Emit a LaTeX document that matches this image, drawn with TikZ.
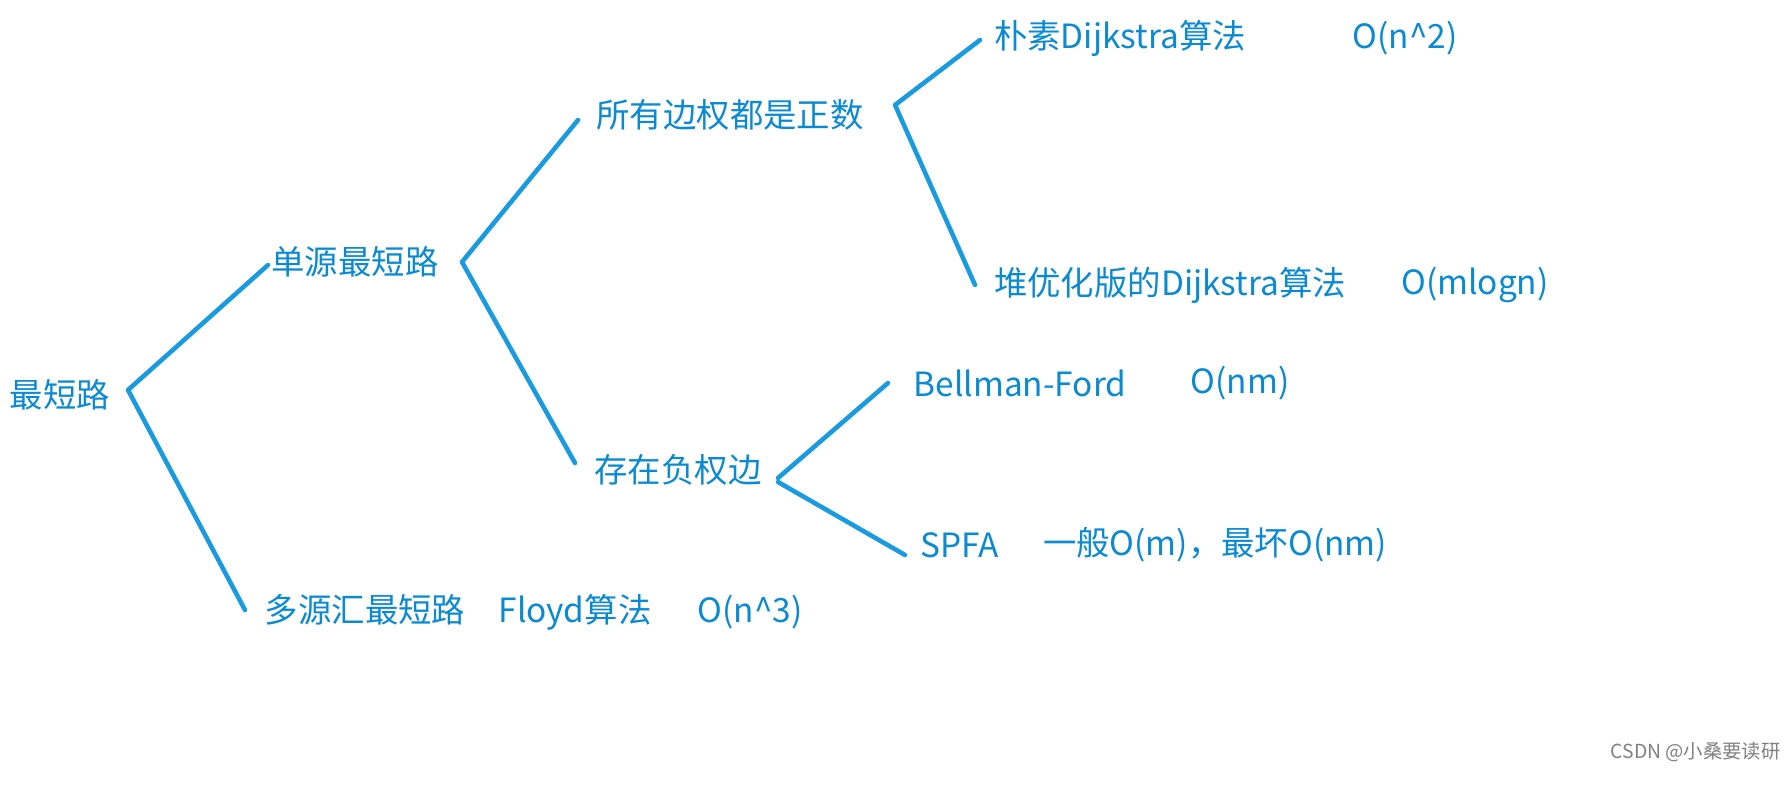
\documentclass[tikz,border=0pt]{standalone}
\usepackage{fontspec}
\setmainfont{Noto Sans CJK SC}
\definecolor{treeblue}{HTML}{1A9BE0}
\definecolor{textblue}{HTML}{0A8AD2}
\begin{document}
\begin{tikzpicture}[x=0.01cm,y=-0.01cm, thick,
  label node/.style={text=textblue,font=\fontsize{9.5}{11}\selectfont, inner sep=0pt},
  branch/.style={draw=treeblue,line width=1.3pt,line cap=round}]
  \useasboundingbox (0,0) rectangle (1792,788);

  \node[label node] (root) at (60,395) {最短路};
  \node[label node] (single) at (355,262) {单源最短路};
  \node[label node] (multi) at (365,610) {多源汇最短路};
  \node[label node] (floyd) at (575,612) {Floyd算法};
  \node[label node] (floydc) at (750,612) {O(n\^{}3)};
  \node[label node] (pos) at (730,115) {所有边权都是正数};
  \node[label node] (neg) at (678,470) {存在负权边};
  \node[label node] (naive) at (1120,38) {朴素Dijkstra算法};
  \node[label node] (naivec) at (1405,38) {O(n\^{}2)};
  \node[label node] (heap) at (1170,285) {堆优化版的Dijkstra算法};
  \node[label node] (heapc) at (1475,285) {O(mlogn)};
  \node[label node] (bf) at (1020,383) {Bellman-Ford};
  \node[label node] (bfc) at (1240,383) {O(nm)};
  \node[label node] (spfa) at (960,545) {SPFA};
  \node[label node] (spfac) at (1215,545) {一般O(m)，最坏O(nm)};
  \node[text=gray,font=\fontsize{5.5}{6}\selectfont,inner sep=0pt,anchor=east] (mark) at (1782,752) {CSDN @小桑要读研};

  % fork points and branch ends
  \coordinate (r0) at (128,390);
  \coordinate (r1) at (268,265);
  \coordinate (r2) at (245,610);
  \coordinate (s0) at (462,262);
  \coordinate (s1) at (578,120);
  \coordinate (s2) at (575,463);
  \coordinate (p0) at (895,105);
  \coordinate (p1) at (980,40);
  \coordinate (p2) at (975,285);
  \coordinate (n0) at (778,478);
  \coordinate (n0b) at (778,482);
  \coordinate (n1) at (888,383);
  \coordinate (n2) at (905,555);

  \path[branch] (r0) -- (r1) (r0) -- (r2)
    (s0) -- (s1) (s0) -- (s2)
    (p0) -- (p1) (p0) -- (p2)
    (n0) -- (n1) (n0b) -- (n2);
\end{tikzpicture}
\end{document}
